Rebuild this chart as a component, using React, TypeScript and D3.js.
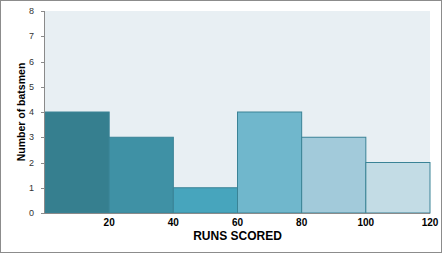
import React from "react";
import * as d3 from "d3";

const binStarts = [0, 20, 40, 60, 80, 100];
const binWidth = 20;
const counts = [4, 3, 1, 4, 3, 2];
const barColors = ["#367F8F", "#3F91A5", "#47A5BD", "#70B7CC", "#A2CADA", "#C3DCE5"];
const xTickValues = [20, 40, 60, 80, 100, 120];
const yTickValues = [0, 1, 2, 3, 4, 5, 6, 7, 8];

const W = 442;
const H = 253;
const left = 45;
const right = 430;
const top = 11;
const bottom = 213;

export default function App() {
  const x = d3.scaleLinear().domain([0, 120]).range([left, right]);
  const y = d3.scaleLinear().domain([0, 8]).range([bottom, top]);
  const font = "'Liberation Sans', Arial, sans-serif";
  return (
    <svg
      width={W}
      height={H}
      style={{ position: "absolute", left: 0, top: 0 }}
    >
      <rect x={0.5} y={0.5} width={W - 1} height={H - 1} fill="#fff" stroke="#8c8c8c" strokeWidth={1} />
      <rect x={left} y={top} width={right - left} height={bottom - top} fill="#E8EFF3" />
      {binStarts.map((s, i) => (
        <rect
          key={i}
          x={x(s)}
          y={y(counts[i])}
          width={x(s + binWidth) - x(s)}
          height={y(0) - y(counts[i])}
          fill={barColors[i]}
          stroke="#3A8396"
          strokeWidth={1}
        />
      ))}
      <line x1={left - 0.5} x2={left - 0.5} y1={top} y2={bottom} stroke="#8a8a8a" />
      <line x1={left - 0.5} x2={right} y1={bottom + 0.5} y2={bottom + 0.5} stroke="#8a8a8a" />
      {yTickValues.map((v) => (
        <g key={v}>
          <line x1={left - 4} x2={left} y1={Math.round(y(v)) + 0.5} y2={Math.round(y(v)) + 0.5} stroke="#8a8a8a" />
          <text
            x={left - 11}
            y={y(v)}
            dy="0.35em"
            textAnchor="end"
            fontFamily={font}
            fontSize={9}
            fill="#333"
          >
            {v}
          </text>
        </g>
      ))}
      {xTickValues.map((v) => (
        <text
          key={v}
          x={x(v)}
          y={226}
          textAnchor="middle"
          fontFamily={font}
          fontSize={10}
          fontWeight="bold"
          fill="#000"
        >
          {v}
        </text>
      ))}
      <text
        x={(left + right) / 2 + 0}
        y={240}
        textAnchor="middle"
        fontFamily={font}
        fontSize={12}
        fontWeight="bold"
        fill="#000"
      >
        RUNS SCORED
      </text>
      <text
        transform={`translate(25,${(top + bottom) / 2}) rotate(-90)`}
        textAnchor="middle"
        fontFamily={font}
        fontSize={10.5}
        fontWeight="bold"
        fill="#000"
      >
        Number of batsmen
      </text>
    </svg>
  );
}
